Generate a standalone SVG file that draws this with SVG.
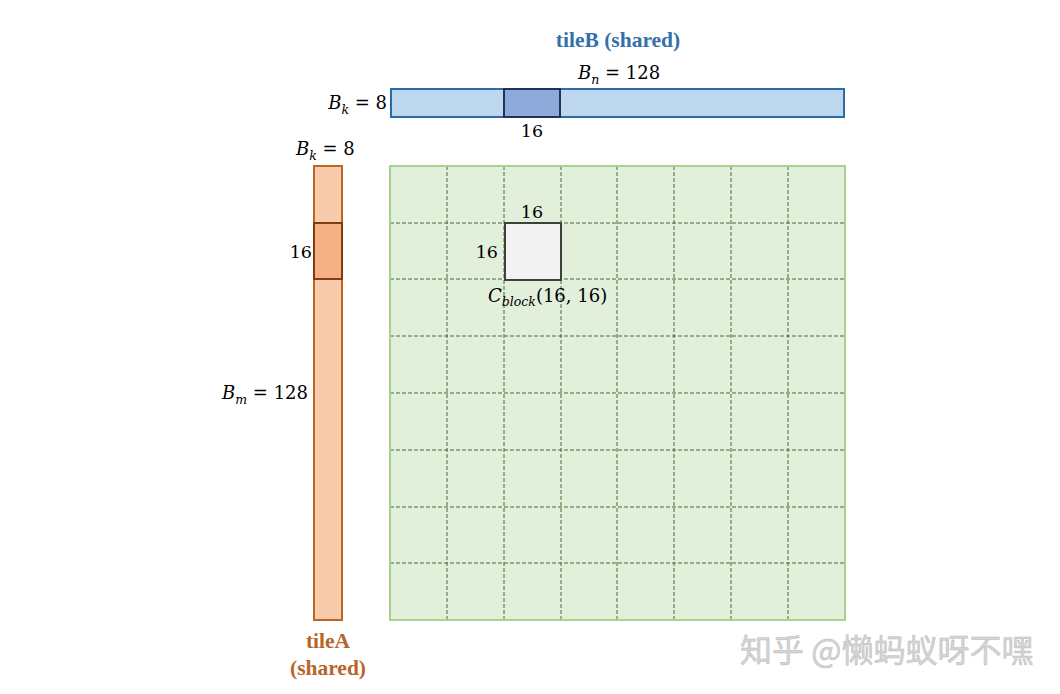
<svg xmlns="http://www.w3.org/2000/svg" width="1060" height="694" viewBox="0 0 1060 694">
<style>
.m{font-family:"DejaVu Serif","Liberation Serif",serif;font-size:18px;fill:#000}
.i{font-style:italic}
.s{font-size:12.5px;font-style:italic}
.n{font-family:"DejaVu Serif","Liberation Serif",serif;font-size:17.5px;fill:#000}
.grid{stroke:#456f30;stroke-width:1;stroke-dasharray:4,2;fill:none}
.ttl{font-family:"Liberation Serif",serif;font-weight:bold;font-size:21.5px;text-anchor:middle}
</style>
<rect width="1060" height="694" fill="#fff"/>
<g id="tileB">
<rect x="391" y="89" width="453" height="28" fill="#bdd7ee" stroke="#2e6aa6" stroke-width="2"/>
<rect x="504" y="89" width="56" height="28" fill="#8eaadb" stroke="#1f3358" stroke-width="2"/>
<text class="ttl" x="618" y="47" fill="#3570a8">tileB (shared)</text>
<text class="m" x="578" y="79"><tspan class="i">B</tspan><tspan class="s" dy="5">n</tspan><tspan dy="-5"> = 128</tspan></text>
<text class="m" x="387" y="109" text-anchor="end"><tspan class="i">B</tspan><tspan class="s" dy="5">k</tspan><tspan dy="-5"> = 8</tspan></text>
<text class="n" x="532" y="137" text-anchor="middle">16</text>
</g>
<g id="tileA">
<rect x="314" y="166" width="28" height="454" fill="#f8cbad" stroke="#c0651f" stroke-width="2"/>
<rect x="314" y="223" width="28" height="56" fill="#f4b183" stroke="#843c0c" stroke-width="2"/>
<text class="m" x="296" y="155"><tspan class="i">B</tspan><tspan class="s" dy="5">k</tspan><tspan dy="-5"> = 8</tspan></text>
<text class="n" x="312" y="258" text-anchor="end">16</text>
<text class="m" x="308" y="399" text-anchor="end"><tspan class="i">B</tspan><tspan class="s" dy="5">m</tspan><tspan dy="-5"> = 128</tspan></text>
<text class="ttl" x="328" y="648" fill="#b7642b">tileA</text>
<text class="ttl" x="328" y="675" fill="#b7642b">(shared)</text>
</g>
<g id="tileC">
<rect x="390" y="166" width="455" height="454" fill="#e2efda"/>
<path class="grid" d="M447 166V620M504 166V620M561 166V620M617 166V620M674 166V620M731 166V620M788 166V620M390 223H845M390 279H845M390 336H845M390 393H845M390 450H845M390 507H845M390 563H845"/>
<rect x="390" y="166" width="455" height="454" fill="none" stroke="#a9d18e" stroke-width="2"/>
</g>
<g id="Cblock">
<rect x="505" y="223" width="56" height="57" fill="#f2f2f2" stroke="#3f3f3f" stroke-width="2"/>
<text class="n" x="532" y="218" text-anchor="middle">16</text>
<text class="n" x="498" y="258" text-anchor="end">16</text>
<text class="m" x="488" y="302"><tspan class="i">C</tspan><tspan class="s" dy="4">block</tspan><tspan dy="-4">(16, 16)</tspan></text>
</g>
<g id="connectors"></g>
<text x="740" y="662" font-family="Noto Sans CJK SC,sans-serif" font-size="32" fill="#d4d4d4" stroke="#bdbdbd" stroke-width="0.5">知乎 @懒蚂蚁呀不嘿</text>
</svg>
